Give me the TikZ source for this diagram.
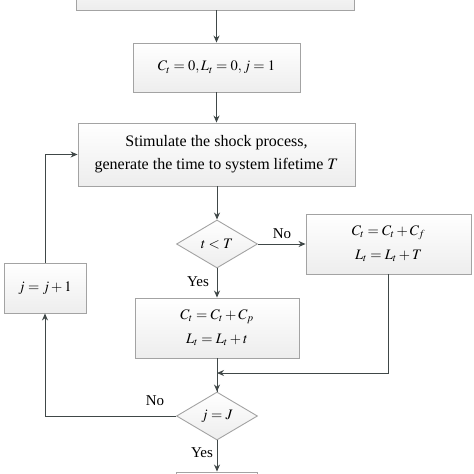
\documentclass[tikz,border=0pt]{standalone}
\usepackage{mathptmx}
\usepackage{fontspec}
\setmainfont{Liberation Serif}
\usetikzlibrary{shapes.geometric,arrows.meta}
\definecolor{bordc}{HTML}{A3A3A3}
\definecolor{linec}{HTML}{404848}
\tikzset{
  box/.style={draw=bordc, line width=0.9pt, top color=white, bottom color=black!7, inner sep=0pt, align=center, font=\fontsize{14.5}{24}\selectfont},
  dia/.style={diamond, draw=bordc, line width=0.9pt, top color=white, bottom color=black!7, inner sep=0pt, minimum width=81pt, minimum height=48pt, font=\fontsize{14.5}{17}\selectfont},
  conn/.style={draw=linec, line width=1pt, -{Stealth[length=7pt,width=6pt]}},
  plain/.style={draw=linec, line width=1pt},
  lbl/.style={font=\fontsize{15}{17}\selectfont, inner sep=0pt}
}
\begin{document}
\begin{tikzpicture}[x=1pt,y=-1pt]
\useasboundingbox (0,0) rectangle (474,474);
\begin{scope}
\clip (0,0) rectangle (474,474);
\node[box, minimum width=278pt, minimum height=40pt] (top) at (215,-10) {};
\node[box, minimum width=167pt, minimum height=49pt] (b2) at (216.5,67.5) {$C_t=0, L_t=0, j=1$};
\node[box, minimum width=277pt, minimum height=63pt, font=\fontsize{16}{23}\selectfont] (b3) at (216.5,154.5) {Stimulate the shock process,\\ generate the time to system lifetime $T$};
\node[dia] (d1) at (217,244) {$t<T$};
\node[box, minimum width=165pt, minimum height=60pt] (b4) at (388.5,244) {$C_t=C_t+C_f$\\ $L_t=L_t+T$};
\node[box, minimum width=164pt, minimum height=60pt] (b5) at (217,328) {$C_t=C_t+C_p$\\ $L_t=L_t+t$};
\node[box, minimum width=82pt, minimum height=50pt] (bj) at (45,288) {$j=j+1$};
\node[dia] (d2) at (217,416) {$j=J$};
\node[box, minimum width=81pt, minimum height=40pt] (bot) at (216.5,492) {};
\coordinate (m) at (217,373);

\draw[conn] (top.south -| b2.north) -- (b2.north);
\draw[conn] (b2.south) -- (b2.south |- b3.north);
\draw[conn] (b3.south -| d1.north) -- (d1.north);
\draw[conn] (d1.east) -- (b4.west);
\draw[conn] (d1.south) -- (b5.north);
\draw[plain] (b5.south) -- (d2.north);
\draw[conn] (b4.south) |- (m);
\draw[conn] (m) -- (d2.north);
\draw[conn] (d2.west) -| (bj.south);
\draw[conn] (bj.north) |- (b3.west);
\draw[conn] (d2.south) -- (d2.south |- bot.north);
\end{scope}
\node[lbl] (no1) at (282,234) {No};
\node[lbl] (yes1) at (198,282) {Yes};
\node[lbl] (no2) at (155,401) {No};
\node[lbl] (yes2) at (202,453) {Yes};
\end{tikzpicture}
\end{document}
